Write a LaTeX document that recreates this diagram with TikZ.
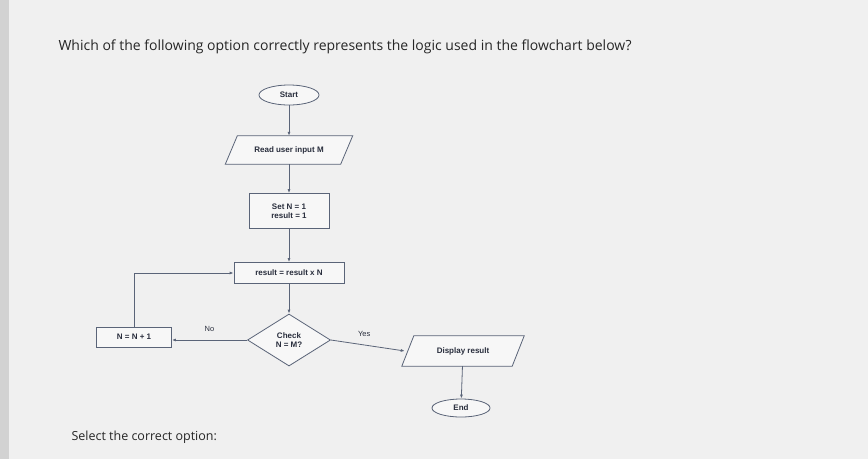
\documentclass[tikz,border=0pt]{standalone}
\usepackage{fontspec}
\setmainfont{Liberation Sans}
\newfontfamily\qfont{Open Sans}
\usetikzlibrary{shapes.geometric,arrows.meta}
\definecolor{ln}{RGB}{90,100,120}
\definecolor{tx}{RGB}{40,45,60}
\begin{document}
\begin{tikzpicture}[x=1pt,y=-1pt,
  every node/.style={text=tx,font=\bfseries\fontsize{8}{9.5}\selectfont,align=center},
  box/.style={draw=ln,line width=0.8pt,fill=gray!6,inner sep=1pt},
  term/.style={box,ellipse},
  io/.style={inner sep=1pt,minimum width=#1},
  par/.style={draw=ln,line width=0.8pt,fill=gray!6},
  arr/.style={draw=ln,line width=0.8pt,-{Latex[length=4pt,width=3pt]}},
  lbl/.style={font=\fontsize{7.5}{8}\selectfont}]
\fill[gray!12] (0,0) rectangle (868,459);
\fill[gray!35] (0,0) rectangle (9,459);
\useasboundingbox (0,0) rectangle (868,459);
\node[anchor=west,font=\qfont\fontsize{14}{16}\selectfont,text=black!85] (q) at (55,47) {Which of the following option correctly represents the logic used in the flowchart below?};
\node[anchor=west,font=\qfont\fontsize{12.5}{14}\selectfont,text=black!85] (s) at (68,437) {Select the correct option:};
\node[term,minimum width=60,minimum height=20] (start) at (289,95) {Start};
\node[io=115,minimum height=28] (read) at (289,150) {Read user input M};
\draw[par] ([xshift=-6pt]read.south west) -- ([xshift=-6pt]read.south east) -- ([xshift=6pt]read.north east) -- ([xshift=6pt]read.north west) -- cycle;
\node at (read) {Read user input M};
\node[box,minimum width=80,minimum height=35] (set) at (289,211) {Set N = 1\\result = 1};
\node[box,minimum width=110,minimum height=21] (res) at (289,273) {result = result x N};
\node[box,diamond,aspect=1.6,minimum width=83,minimum height=52,inner sep=0pt] (chk) at (289,340) {Check\\N = M?};
\node[box,minimum width=75,minimum height=20] (inc) at (134,337) {N = N + 1};
\node[io=110,minimum height=30] (disp) at (463,351) {Display result};
\draw[par] ([xshift=-6pt]disp.south west) -- ([xshift=-6pt]disp.south east) -- ([xshift=6pt]disp.north east) -- ([xshift=6pt]disp.north west) -- cycle;
\node at (disp) {Display result};
\node[term,minimum width=58,minimum height=18] (end) at (461,408) {End};
\draw[arr] (start) -- (read);
\draw[arr] (read) -- (set);
\draw[arr] (set) -- (res);
\draw[arr] (res) -- (chk);
\draw[arr] (chk.west) -- node[lbl,above=5pt]{No} (chk.west -| inc.east);
\draw[arr] (chk.east) -- node[lbl,above=5pt,pos=0.45]{Yes} ([xshift=-3pt]disp.west);
\draw[arr] (inc.north) |- (res.west);
\draw[arr] (disp) -- (end);
\end{tikzpicture}
\end{document}
